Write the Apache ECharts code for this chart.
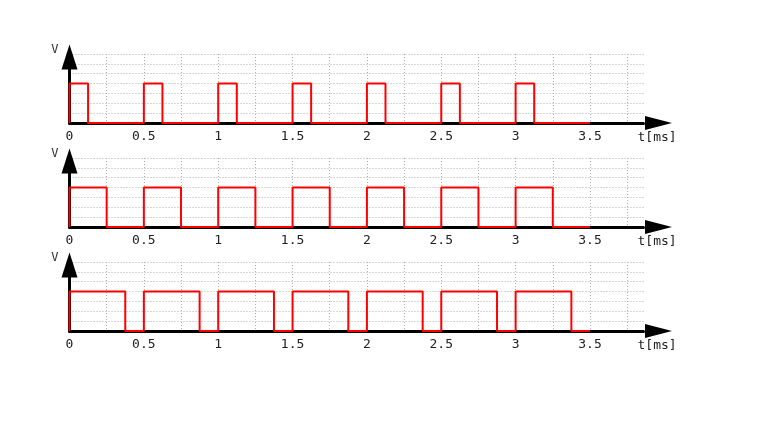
<!DOCTYPE html>
<html>
<head>
<meta charset="utf-8">
<script src="https://cdn.jsdelivr.net/npm/echarts@6/dist/echarts.min.js"></script>
<style>
html, body { margin: 0; padding: 0; background: #fff; }
#chart { width: 768px; height: 445px; }
</style>
</head>
<body>
<div id="chart"></div>
<script>
// tick labels on the time axis (every 0.5 ms)
const xTickValues = [0, 0.5, 1, 1.5, 2, 2.5, 3, 3.5];
const xTickLabels = ['0', '0.5', '1', '1.5', '2', '2.5', '3', '3.5'];

const highLevel = 4;
const endTime = 3.5;

// rising / falling edges in ms, one pair per panel (25%, 50%, 75% duty)
const rise1 = [0, 0.5, 1, 1.5, 2, 2.5, 3];
const fall1 = [0.125, 0.625, 1.125, 1.625, 2.125, 2.625, 3.125];
const rise2 = [0, 0.5, 1, 1.5, 2, 2.5, 3];
const fall2 = [0.25, 0.75, 1.25, 1.75, 2.25, 2.75, 3.25];
const rise3 = [0, 0.5, 1, 1.5, 2, 2.5, 3];
const fall3 = [0.375, 0.875, 1.375, 1.875, 2.375, 2.875, 3.375];

const panels = [[rise1, fall1], [rise2, fall2], [rise3, fall3]];

// layout
const panelTops = [54, 158, 262];
const gridLeft = 69.5;
const gridWidth = 574;
const gridHeight = 69;

const font = 'DejaVu Sans Mono';
const dotted = { color: '#b0b0b0', width: 1, type: [1, 2] };

function pulsePoints(rise, fall) {
	const pts = [];
	rise.forEach((r, i) => {
		pts.push([r, 0], [r, highLevel], [fall[i], highLevel], [fall[i], 0]);
	});
	pts.push([endTime, 0]);
	return pts;
}

function tickLabel(v) {
	const idx = xTickValues.findIndex((t) => Math.abs(t - v) < 1e-6);
	return idx >= 0 ? xTickLabels[idx] : '';
}

const grids = [];
const xAxes = [];
const yAxes = [];
const series = [];

panels.forEach(([rise, fall], i) => {
	grids.push({ left: gridLeft, top: panelTops[i], width: gridWidth, height: gridHeight });

	xAxes.push({
		gridIndex: i,
		type: 'value',
		min: 0,
		max: 3.86,
		interval: 0.25,
		axisLine: {
			show: true,
			onZero: false,
			symbol: ['none', 'triangle'],
			symbolSize: [14, 27],
			symbolOffset: [0, 15],
			lineStyle: { color: '#000', width: 3 },
		},
		axisTick: { show: false },
		axisLabel: {
			margin: 7,
			color: '#222',
			fontFamily: font,
			fontSize: 13,
			formatter: (v) => tickLabel(v),
		},
		splitLine: { show: true, showMinLine: false, showMaxLine: false, lineStyle: dotted },
		name: 't[ms]',
		nameLocation: 'end',
		nameGap: -6,
		nameTextStyle: {
			color: '#222',
			fontFamily: font,
			fontSize: 13,
			align: 'left',
			verticalAlign: 'top',
			padding: [8, 0, 0, 0],
		},
	});

	yAxes.push({
		gridIndex: i,
		type: 'value',
		min: 0,
		max: 7,
		interval: 1,
		axisLine: {
			show: true,
			onZero: false,
			symbol: ['none', 'triangle'],
			symbolSize: [16, 25],
			symbolOffset: [0, -3],
			lineStyle: { color: '#000', width: 3 },
		},
		axisTick: { show: false },
		axisLabel: { show: false },
		splitLine: { show: true, showMinLine: false, lineStyle: dotted },
		name: 'V',
		nameLocation: 'end',
		nameGap: 4,
		nameTextStyle: {
			color: '#333',
			fontFamily: font,
			fontSize: 12,
			align: 'right',
			verticalAlign: 'middle',
			padding: [0, 11, 0, 0],
		},
	});

	series.push({
		type: 'line',
		xAxisIndex: i,
		yAxisIndex: i,
		data: pulsePoints(rise, fall),
		showSymbol: false,
		lineStyle: { color: '#ff0000', width: 2 },
		z: 5,
	});
});

const chart = echarts.init(document.getElementById('chart'), null, { renderer: 'canvas' });
chart.setOption({
	animation: false,
	backgroundColor: '#fff',
	grid: grids,
	xAxis: xAxes,
	yAxis: yAxes,
	series: series,
});
</script>
</body>
</html>
